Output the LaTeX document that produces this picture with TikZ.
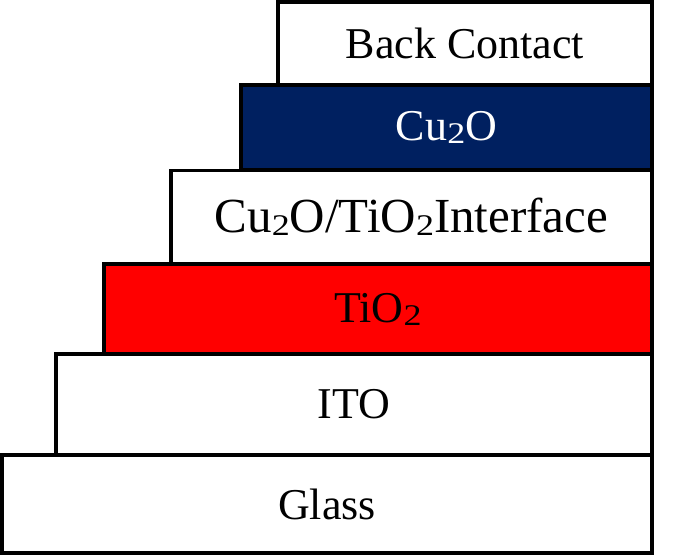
\documentclass[tikz,border=0pt]{standalone}
\usepackage{fontspec}
\setmainfont{Liberation Serif}
\usepackage{xcolor}
\usepackage{graphicx}
\definecolor{cuonavy}{HTML}{002060}
\definecolor{tiored}{HTML}{FF0000}
\newcommand{\lowtwo}{\raisebox{-0.07em}{\scalebox{1.2}[1]{\fontsize{30}{30}\selectfont 2}}}

\begin{document}
\begin{tikzpicture}[x=1pt,y=-1pt,font=\fontsize{44}{50}\selectfont,
  layer/.style={draw=black, line width=3.4pt, fill=white, inner sep=0pt, rectangle}]

\useasboundingbox (0,0) rectangle (685,555);

\node[layer, minimum width=650pt, minimum height=98pt] (glass) at (327,504) {Glass};
\node[layer, minimum width=596pt, minimum height=101pt] (ito) at (354,404.5) {ITO};
\node[layer, fill=tiored, minimum width=548pt, minimum height=90pt] (tio) at (378,309) {TiO\lowtwo};
\node[layer, minimum width=481pt, minimum height=93pt, font=\fontsize{49}{54}\selectfont] (iface) at (411.5,217) {Cu\lowtwo O/TiO\lowtwo Interface};
\node[layer, fill=cuonavy, text=white, minimum width=411pt, minimum height=85pt] (cuo) at (446.5,127.5) {Cu\lowtwo O};
\node[layer, minimum width=374pt, minimum height=83pt] (back) at (465,43.5) {Back Contact};

\end{tikzpicture}
\end{document}
